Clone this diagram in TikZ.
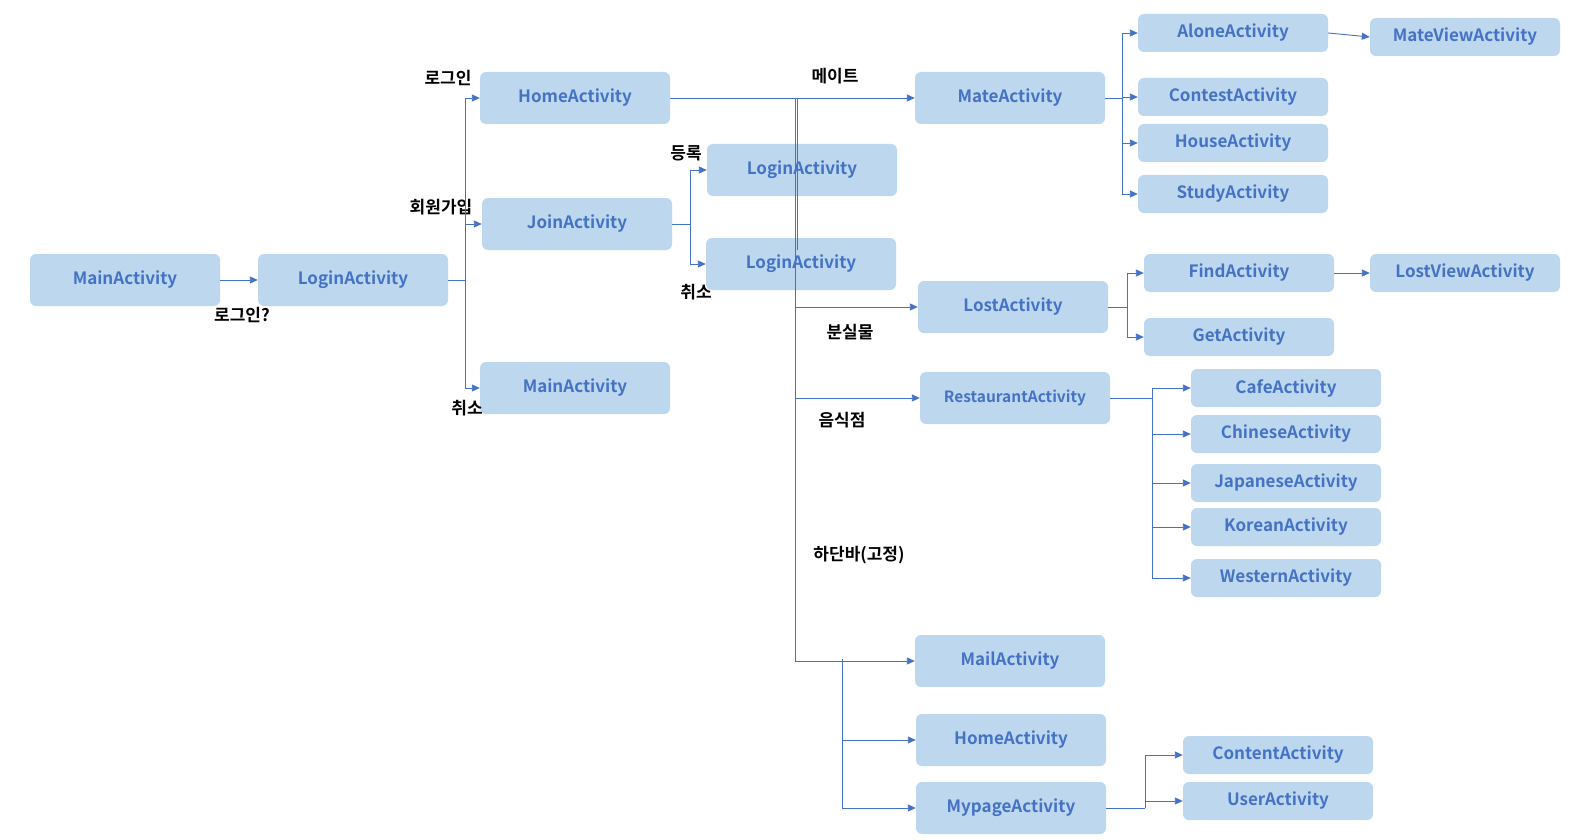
\documentclass[tikz,border=0pt]{standalone}
\usepackage{fontspec}
\setmainfont{Noto Sans CJK KR}[BoldFont={* Bold}]
\usetikzlibrary{arrows.meta}
\definecolor{bx}{HTML}{BDD7EE}
\definecolor{tx}{HTML}{4472C4}
\begin{document}
\begin{tikzpicture}[x=1pt,y=-1pt,
 box/.style={fill=bx,rounded corners=6pt,minimum width=190pt,inner sep=0pt,text=tx,font=\fontsize{17}{20}\selectfont\bfseries},
 bigb/.style={box,minimum height=52pt},
 smb/.style={box,minimum height=38pt},
 lab/.style={font=\fontsize{17}{20}\selectfont\bfseries},
 ln/.style={draw=tx,line width=0.9pt},
 ar/.style={ln,-{Triangle[length=8pt,width=7pt]}}]
\useasboundingbox (0,0) rectangle (1572,840);
\node[bigb] (main1) at (125,280) {MainActivity};
\node[bigb] (login1) at (353,280) {LoginActivity};
\node[bigb] (home1) at (575,98) {HomeActivity};
\node[bigb] (join) at (577,224) {JoinActivity};
\node[bigb] (main2) at (575,388) {MainActivity};
\node[bigb] (login2) at (802,170) {LoginActivity};
\node[bigb] (login3) at (801,264) {LoginActivity};
\node[bigb] (mate) at (1010,98) {MateActivity};
\node[smb] (alone) at (1233,33) {AloneActivity};
\node[smb] (mateview) at (1465,37) {MateViewActivity};
\node[smb] (contest) at (1233,97) {ContestActivity};
\node[smb] (house) at (1233,143) {HouseActivity};
\node[smb] (study) at (1233,194) {StudyActivity};
\node[bigb] (lost) at (1013,307) {LostActivity};
\node[smb] (find) at (1239,273) {FindActivity};
\node[smb] (lostview) at (1465,273) {LostViewActivity};
\node[smb] (get) at (1239,337) {GetActivity};
\node[bigb,font=\fontsize{15.5}{18}\selectfont\bfseries] (rest) at (1015,398) {RestaurantActivity};
\node[smb] (cafe) at (1286,388) {CafeActivity};
\node[smb] (chinese) at (1286,434) {ChineseActivity};
\node[smb] (japanese) at (1286,483) {JapaneseActivity};
\node[smb] (korean) at (1286,527) {KoreanActivity};
\node[smb] (western) at (1286,578) {WesternActivity};
\node[bigb] (mail) at (1010,661) {MailActivity};
\node[bigb] (home2) at (1011,740) {HomeActivity};
\node[bigb] (mypage) at (1011,808) {MypageActivity};
\node[smb] (content) at (1278,755) {ContentActivity};
\node[smb] (user) at (1278,801) {UserActivity};
% labels
\node[lab] (l1) at (448,78) {로그인};
\node[lab] (l2) at (441,207) {회원가입};
\node[lab] (l3) at (467,408) {취소};
\node[lab] (l4) at (242,315) {로그인?};
\node[lab] (l5) at (686,153) {등록};
\node[lab] (l6) at (696,292) {취소};
\node[lab] (l7) at (835,76) {메이트};
\node[lab] (l8) at (850,332) {분실물};
\node[lab] (l9) at (842,420) {음식점};
\node[lab] (l10) at (859,555) {하단바(고정)};
% connectors
\draw[ar] (main1.east) -- (login1.west);
\draw[ln] (login1.east) -- ++(17,0) coordinate (b1);
\draw[ar] (b1) |- (home1.west);
\draw[ar] (b1) |- (join.west);
\draw[ar] (b1) |- (main2.west);
\draw[ln] (join.east) -- ++(18,0) coordinate (b2);
\draw[ar] (b2) |- (login2.west);
\draw[ar] (b2) |- (login3.west);
\draw[ar] (home1.east) -- (mate.west);
\coordinate (v1) at (795,98);
\draw[ln] (797,98) -- (797,250);
\draw[ln] (v1) -- (795,661) coordinate (v2);
\draw[ar] (795,307) -- (lost.west);
\draw[ar] (795,398) -- (rest.west);
\draw[ar] (v2) -- (mail.west);
\draw[ln] (842,659) coordinate (b3) -- (842,808);
\draw[ar] (842,740) -- (home2.west);
\draw[ar] (842,808) -- (mypage.west);
\draw[ln] (mate.east) -- ++(17,0) coordinate (b4);
\draw[ar] (b4) |- (alone.west);
\draw[ar] (b4) |- (contest.west);
\draw[ar] (b4) |- (house.west);
\draw[ar] (b4) |- (study.west);
\draw[ar] (alone.east) -- (mateview.west);
\draw[ln] (lost.east) -- ++(19,0) coordinate (b5);
\draw[ar] (b5) |- (find.west);
\draw[ar] (b5) |- (get.west);
\draw[ar] (find.east) -- (lostview.west);
\draw[ln] (rest.east) -- ++(42,0) coordinate (b6);
\draw[ar] (b6) |- (cafe.west);
\draw[ar] (b6) |- (chinese.west);
\draw[ar] (b6) |- (japanese.west);
\draw[ar] (b6) |- (korean.west);
\draw[ar] (b6) |- (western.west);
\draw[ln] (mypage.east) -- ++(39,0) coordinate (b7);
\draw[ar] (b7) |- (content.west);
\draw[ar] (b7) |- (user.west);
\end{tikzpicture}
\end{document}
